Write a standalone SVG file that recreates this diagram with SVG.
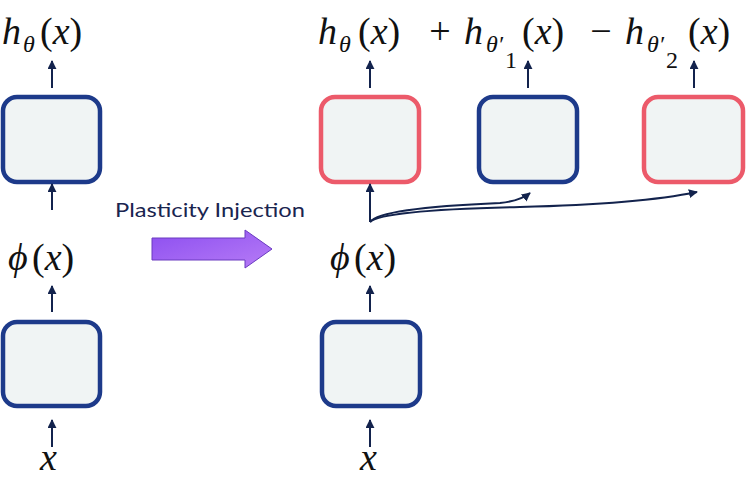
<svg xmlns="http://www.w3.org/2000/svg" width="752" height="477" viewBox="0 0 752 477">
<defs>
<style>
.b{fill:#f0f4f4;stroke-width:4.5}
.blue{stroke:#1d3a8a}.red{stroke:#ec5a6a}
.m{font-family:"Liberation Serif","DejaVu Serif",serif;font-style:italic;font-size:38px;fill:#111}
.n{font-family:"Liberation Serif","DejaVu Serif",serif;font-style:normal;font-size:38px;fill:#111}
.s{font-family:"Liberation Serif","DejaVu Serif",serif;font-style:italic;font-size:24px;fill:#111}
.sn{font-family:"Liberation Serif","DejaVu Serif",serif;font-size:24px;fill:#111}
.c{stroke:#13234d;stroke-width:2;fill:none;marker-end:url(#ah)}
</style>
<marker id="ah" viewBox="0 0 10 10" refX="9" refY="5" markerWidth="4.5" markerHeight="4.5" orient="auto-start-reverse"><path d="M0,0L10,5L0,10z" fill="#13234d"/></marker>
<linearGradient id="pg" x1="0" y1="0" x2="1" y2="1"><stop offset="0" stop-color="#8c4ef0"/><stop offset="1" stop-color="#b77cf6"/></linearGradient>
</defs>
<g id="L_top"><rect class="b blue" x="3" y="97" width="97" height="85" rx="14"/></g>
<g id="L_bot"><rect class="b blue" x="3" y="322" width="97" height="84" rx="14"/></g>
<g id="R1"><rect class="b red" x="321" y="97" width="98" height="85" rx="14"/></g>
<g id="R2"><rect class="b blue" x="479" y="97" width="98" height="85" rx="14"/></g>
<g id="R3"><rect class="b red" x="644" y="97" width="99" height="85" rx="14"/></g>
<g id="R_bot"><rect class="b blue" x="322" y="322" width="98" height="84" rx="14"/></g>
<g id="labels">
<text x="2" y="44" class="m">h</text><text x="23" y="52" class="s">θ</text><text x="40" y="44" class="n">(<tspan class="m">x</tspan>)</text>
<text x="8" y="270" class="m">ϕ</text><text x="32" y="270" class="n">(<tspan class="m">x</tspan>)</text>
<text x="40" y="470" class="m">x</text>
<text x="330" y="270" class="m">ϕ</text><text x="354" y="270" class="n">(<tspan class="m">x</tspan>)</text>
<text x="360" y="470" class="m">x</text>
<text x="318" y="44" class="m">h</text><text x="339" y="52" class="s">θ</text><text x="358" y="44" class="n">(<tspan class="m">x</tspan>)</text><text x="440" y="44" class="n" text-anchor="middle">+</text>
<text x="464" y="44" class="m">h</text><text x="486" y="52" class="s">θ′</text><text x="505" y="68" class="sn">1</text><text x="522" y="44" class="n">(<tspan class="m">x</tspan>)</text><text x="601" y="44" class="n" text-anchor="middle">−</text>
<text x="625" y="44" class="m">h</text><text x="647" y="52" class="s">θ′</text><text x="666" y="68" class="sn">2</text><text x="688" y="44" class="n">(<tspan class="m">x</tspan>)</text>
<text x="115" y="217" font-family="Lato,sans-serif" font-size="19" fill="#1a2550" textLength="190" lengthAdjust="spacingAndGlyphs">Plasticity Injection</text>
</g>
<g id="inject"><path d="M152,238H245V230L272,249L245,268V260H152z" fill="url(#pg)" stroke="#6a3bc0" stroke-width="1"/></g>
<g id="connectors">
<path class="c" d="M52,88V61"/><path class="c" d="M52,210V184"/><path class="c" d="M52,312V286"/><path class="c" d="M52,447V420"/>
<path class="c" d="M370,88V61"/><path class="c" d="M528,88V61"/><path class="c" d="M694,88V61"/>
<path class="c" d="M370,222V184"/><path class="c" d="M370,312V286"/><path class="c" d="M370,447V420"/>
<path class="c" d="M370,222Q380,208 500,203Q520,201 530,193"/>
<path class="c" d="M370,222Q382,210 520,207Q640,204 697,192"/>
</g>
</svg>
